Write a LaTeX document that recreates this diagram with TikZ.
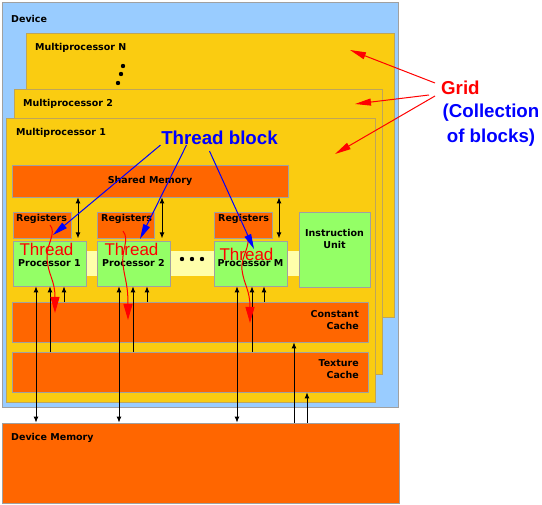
\documentclass[tikz,border=0pt]{standalone}
\usepackage{fontspec}
\setmainfont{DejaVu Sans}
\newfontfamily\arialfont{Liberation Sans}
\usetikzlibrary{arrows.meta}

\definecolor{devblue}{RGB}{153,204,255}
\definecolor{mpyellow}{RGB}{250,204,17}
\definecolor{memorange}{RGB}{255,102,0}
\definecolor{procgreen}{RGB}{148,255,102}
\definecolor{stripyellow}{RGB}{255,255,170}
\definecolor{edgegray}{RGB}{160,160,160}
\definecolor{mpedge}{RGB}{190,165,90}

\begin{document}
\begin{tikzpicture}[x=1pt, y=-1pt,
		box/.style={rectangle, draw=edgegray, line width=0.8pt, inner sep=0pt},
		mpbox/.style={box, draw=mpedge, fill=mpyellow},
		lbl/.style={font=\bfseries\fontsize{9.5}{11.5}\selectfont, inner sep=0pt},
		bigtext/.style={font=\arialfont\bfseries\fontsize{18.7}{25}\selectfont, inner sep=0pt},
		threadtext/.style={font=\arialfont\fontsize{17}{20}\selectfont, red, inner sep=0pt},
		dbl/.style={{Latex[length=6pt,width=5pt]}-{Latex[length=6pt,width=5pt]}, line width=1pt},
		up/.style={-{Latex[length=6pt,width=5pt]}, line width=1pt},
		thread/.style={red, line width=1pt, -{Triangle[length=16pt,width=9pt]}},
		tblock/.style={blue, line width=1pt, -{Triangle[length=15pt,width=7pt]}},
		gridarrow/.style={red, line width=1pt, -{Triangle[length=16pt,width=7pt]}}]
	\useasboundingbox (0,0) rectangle (542,505);
	
	\node[box, fill=devblue, minimum width=396pt, minimum height=405pt] (dev) at (200,204.5){};
	\node[mpbox, minimum width=368pt, minimum height=284pt] (mpn) at (210,175){};
	\node[mpbox, minimum width=368pt, minimum height=285pt] (mp2) at (198,231.5){};
	\node[mpbox, minimum width=369pt, minimum height=284pt] (mp1) at (190.5,260){};
	
	\node[box, fill=memorange, minimum width=276pt, minimum height=32pt, lbl] (shared) at (150,181){Shared Memory};
	\node[rectangle, fill=stripyellow, minimum width=213pt, minimum height=25pt] (strip) at (192.5,263.5){};
	\node[box, fill=memorange, minimum width=58pt, minimum height=26pt] (r1) at (42,225){};
	\node[box, fill=memorange, minimum width=57pt, minimum height=26pt] (r2) at (125.5,225){};
	\node[box, fill=memorange, minimum width=58pt, minimum height=26pt] (rm) at (243,225){};
	\node[box, fill=procgreen, minimum width=73pt, minimum height=45pt] (p1) at (49.5,263.5){};
	\node[box, fill=procgreen, minimum width=73pt, minimum height=45pt] (p2) at (133.5,263.5){};
	\node[box, fill=procgreen, minimum width=73pt, minimum height=45pt] (pm) at (250.5,263.5){};
	\node[box, fill=procgreen, minimum width=71pt, minimum height=75pt] (iu) at (334.5,249.5){};
	\node[box, fill=memorange, minimum width=356pt, minimum height=40pt] (cc) at (190,322){};
	\node[box, fill=memorange, minimum width=356pt, minimum height=40pt] (tc) at (190,372){};
	\node[box, fill=memorange, minimum width=397pt, minimum height=80pt] (dm) at (200.5,463){};
	
	\node[lbl, anchor=west] (devlbl) at (11,19){Device};
	\node[lbl, anchor=west] (mpnlbl) at (35,48){Multiprocessor N};
	\node[lbl, anchor=west] (mp2lbl) at (23,104){Multiprocessor 2};
	\node[lbl, anchor=west] (mp1lbl) at (16,133){Multiprocessor 1};
	\fill (123,66) circle (2.2pt) (121,74) circle (2.2pt) (118,83) circle (2.2pt);
	\fill (182,259) circle (2.2pt) (192,259) circle (2.2pt) (202,259) circle (2.2pt);
	\node[lbl, anchor=west] (r1lbl) at (16,219){Registers};
	\node[lbl, anchor=west] (r2lbl) at (101,219){Registers};
	\node[lbl, anchor=west] (rmlbl) at (218,219){Registers};
	\node[lbl] (p1lbl) at (p1){Processor 1};
	\node[lbl] (p2lbl) at (p2){Processor 2};
	\node[lbl] (pmlbl) at (pm){Processor M};
	\node[lbl, align=center] (iulbl) at (334.5,239){Instruction\\Unit};
	\node[lbl, align=right, anchor=east] (cclbl) at (359,320){Constant\\Cache};
	\node[lbl, align=right, anchor=east] (tclbl) at (359,369){Texture\\Cache};
	\node[lbl, anchor=west] (dmlbl) at (11,438){Device Memory};
	
	\draw[dbl] (shared.south -| 78,0) -- (r1.south -| 78,0);
	\draw[dbl] (shared.south -| 162,0) -- (r2.south -| 162,0);
	\draw[dbl] (shared.south -| 279,0) -- (rm.south -| 279,0);
	
	\draw[dbl] (dm.north -| 36,0) -- (p1.south -| 36,0);
	\draw[up] (tc.north -| 50,0) -- (p1.south -| 50,0);
	\draw[up] (cc.north -| 64,0) -- (p1.south -| 64,0);
	\draw[dbl] (dm.north -| 119,0) -- (p2.south -| 119,0);
	\draw[up] (tc.north -| 133,0) -- (p2.south -| 133,0);
	\draw[up] (cc.north -| 147,0) -- (p2.south -| 147,0);
	\draw[dbl] (dm.north -| 237,0) -- (pm.south -| 237,0);
	\draw[up] (tc.north -| 252,0) -- (pm.south -| 252,0);
	\draw[up] (cc.north -| 264,0) -- (pm.south -| 264,0);
	\draw[up] (dm.north -| 294,0) -- (cc.south -| 294,0);
	\draw[up] (dm.north -| 307,0) -- (tc.south -| 307,0);
	
	\draw[thread] (50,225) .. controls (57,233) and (46,245) .. (47,258) .. controls (48,275) and (55,280) .. (55,313);
	\draw[thread] (123,231) .. controls (130,240) and (121,250) .. (123,265) .. controls (125,280) and (128,285) .. (128,320);
	\draw[thread] (247,234) .. controls (252,245) and (240,258) .. (242,270) .. controls (244,285) and (250,290) .. (250,323);
	\node[threadtext] (t1) at (46.5,249){Thread};
	\node[threadtext] (t2) at (131.5,249){Thread};
	\node[threadtext] (tm) at (246.5,254){Thread};
	
	\node[bigtext, blue] (tb) at (219.5,138){Thread block};
	\coordinate (tip1) at (53,235);
	\coordinate (tip2) at (140,239);
	\coordinate (tipm) at (254,249);
	\draw[tblock] ([xshift=-59pt]tb.south) -- (tip1);
	\draw[tblock] ([xshift=-33pt]tb.south) -- (tip2);
	\draw[tblock] ([shift={(-10pt,-6pt)}]tb.south) -- (tipm);
	
	\node[bigtext, red, anchor=west] (grid) at (441,88){Grid};
	\node[bigtext, blue, align=center] (coll) at (491,125.5){(Collection\\of blocks)};
	\coordinate (gtipn) at (350,50);
	\coordinate (gtip2) at (355,104);
	\coordinate (gtip1) at (335,154);
	\draw[gridarrow] ([shift={(-6pt,5pt)}]grid.west) -- (gtipn);
	\draw[gridarrow] ([shift={(-12pt,-7pt)}]grid.west) -- (gtip2);
	\draw[gridarrow] ([shift={(-6pt,-8pt)}]grid.west) -- (gtip1);
\end{tikzpicture}
\end{document}
